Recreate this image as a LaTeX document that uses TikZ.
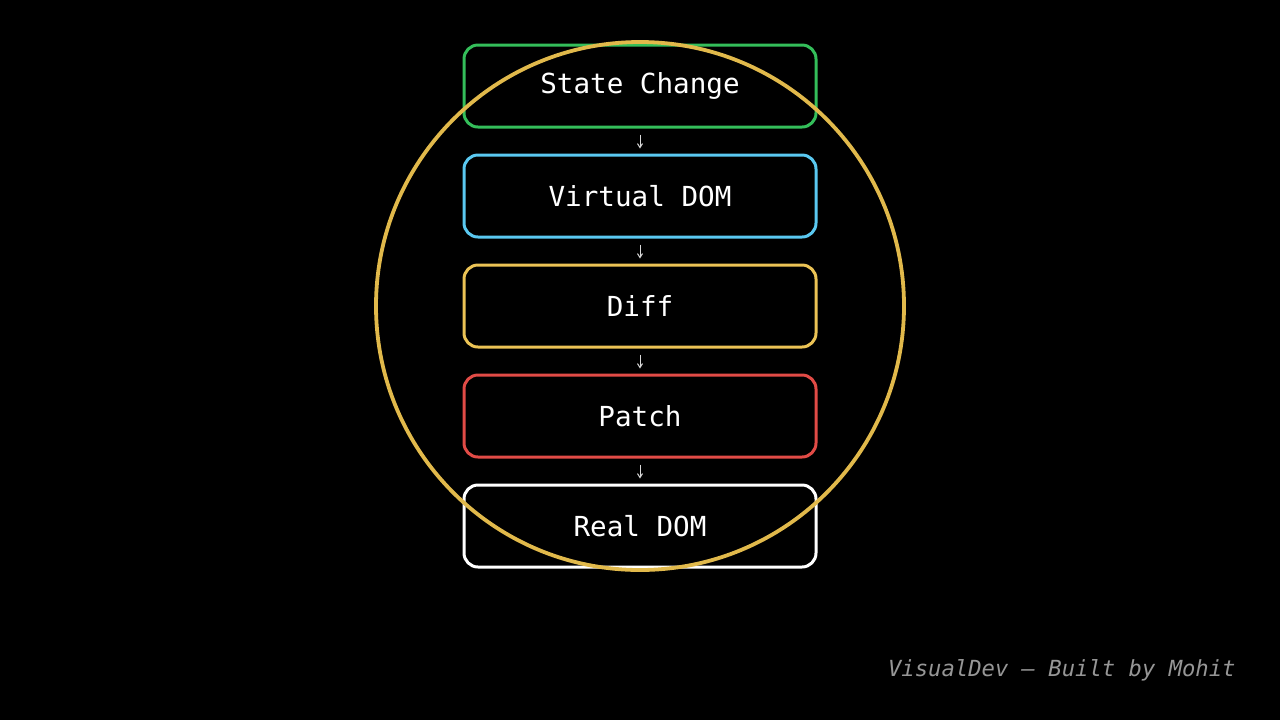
\documentclass[tikz,border=0pt]{standalone}
\usepackage{fontspec}
\setmonofont{DejaVu Sans Mono}
\usetikzlibrary{arrows.meta}
\definecolor{cgreen}{RGB}{52,190,90}
\definecolor{cblue}{RGB}{90,200,240}
\definecolor{cyellow}{RGB}{235,195,85}
\definecolor{cred}{RGB}{225,75,70}
\definecolor{cring}{RGB}{225,185,75}
\definecolor{cfoot}{RGB}{150,150,150}
\tikzset{
  stepbox/.style={draw, line width=1.5pt, rounded corners=7pt, minimum width=176pt, minimum height=41pt, inner sep=0pt, text=white, font=\ttfamily\fontsize{13.8pt}{16pt}\selectfont},
  flow/.style={draw=white!85!black, line width=0.5pt, -{Straight Barb[length=2pt,width=2.5pt]}}
}
\begin{document}
\begin{tikzpicture}[x=0.5pt,y=-0.5pt]
\fill[black] (0,0) rectangle (1280,720);
\useasboundingbox (0,0) rectangle (1280,720);
\node[stepbox, draw=cgreen] (s1) at (640,86) {\raisebox{-0.5pt}{State Change}};
\node[stepbox, draw=cblue] (s2) at (640,196) {Virtual DOM};
\node[stepbox, draw=cyellow] (s3) at (640,306) {Diff};
\node[stepbox, draw=cred] (s4) at (640,416) {Patch};
\node[stepbox, draw=white] (s5) at (640,526) {Real DOM};
\coordinate (ringc) at (640,306);
\draw[cring, line width=1.9pt] (ringc) circle[radius=132pt];
\draw[flow] ([yshift=-3pt]s1.south) -- ([yshift=2.5pt]s2.north);
\draw[flow] ([yshift=-3pt]s2.south) -- ([yshift=2.5pt]s3.north);
\draw[flow] ([yshift=-3pt]s3.south) -- ([yshift=2.5pt]s4.north);
\draw[flow] ([yshift=-3pt]s4.south) -- ([yshift=2.5pt]s5.north);
\node[anchor=base east, text=cfoot, inner sep=0pt, font=\ttfamily\itshape\fontsize{11.1pt}{13pt}\selectfont] (foot) at (1236,676) {VisualDev – Built by Mohit};
\end{tikzpicture}
\end{document}
